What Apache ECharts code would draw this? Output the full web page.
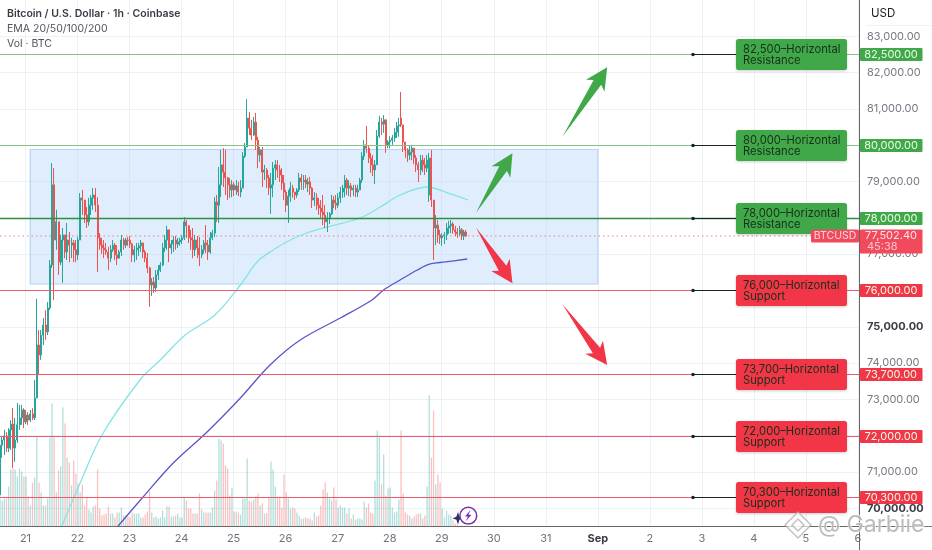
<!DOCTYPE html>
<html>
<head>
<meta charset="utf-8">
<style>html,body{margin:0;padding:0;background:#fff}#c{width:932px;height:550px}</style>
<script src="https://cdn.jsdelivr.net/npm/echarts@6/dist/echarts.min.js"></script>
</head>
<body>
<div id="c"></div>
<script>
const firstDay = 20.51;
const firstOpen = 70370;
const openOverrides = {185: 80750, 198: 78630};
const closes = [71740,71880,71990,71660,72160,72320,71660,71880,72300,72490,72710,72380,72570,72430,72600,72490,73040,74500,74220,74770,75050,74860,75520,76700,78910,77390,77890,76780,77390,77530,77060,77390,77250,77310,77120,76980,77390,78550,78490,78080,77890,78350,78550,78630,78350,77450,77250,77170,77120,77060,76890,77120,77250,76980,76890,77060,77390,77250,77390,77380,77280,76980,77120,77170,77230,77310,77060,76890,76620,76150,76230,76070,76430,76560,76700,77170,77390,77670,77170,77280,77390,77280,77340,77390,77450,77890,77780,77450,77390,77120,77390,77170,76980,77120,77310,77250,77060,77450,77580,78440,78350,78910,79460,79260,79100,78910,78770,78910,78770,78880,78710,78820,79700,79950,80750,80470,80280,80640,80140,79730,79870,79260,79320,79100,78820,78910,79370,79460,79320,79180,78960,78710,78350,78600,78820,78710,78630,78770,79100,78990,79040,78930,78990,78820,78490,78550,78350,78270,78160,78080,77890,78000,78110,78490,78410,78350,78550,78710,78820,79040,78820,78880,78770,78820,78710,78770,79040,79700,80010,79920,79650,79460,79320,79460,80250,80640,80580,80700,80010,80090,80140,80200,80360,80530,80560,80560,80090,79870,79730,79810,79920,79650,79460,79320,79590,79460,79370,79590,79650,78490,77720,77800,77530,77450,77500,77530,77720,77780,77830,77670,77610,77560,77670,77500,77610,77502];
const highs = [72300,71990,72160,72100,72210,72430,72760,72490,72900,72850,72850,72760,72710,72650,72710,72760,73530,75770,74910,74910,75240,75460,75680,76840,79510,79370,78220,77860,77530,77720,77530,77860,77610,77450,77390,77390,77470,78680,78770,78490,78300,78550,78630,78820,78820,78570,77580,77450,77390,77310,77200,77250,77390,77310,77250,77120,77530,77450,77450,77470,77500,77310,77230,77310,77310,77390,77310,77120,77030,76650,76340,76370,76560,76700,76780,77310,77530,77780,77610,77390,77500,77500,77450,77450,77530,78020,77940,77800,77670,77720,77530,77500,77470,77250,77390,77800,77390,77610,77670,78570,78630,79400,79870,79920,79870,79130,79100,79040,78990,79040,78990,79040,79810,80060,81270,80920,80700,80780,80890,80230,79950,79950,79460,79370,79180,79240,79540,79590,79590,79460,79370,79180,78770,78770,78990,78910,78710,78820,79240,79210,79180,79180,79100,79130,78850,78710,78680,78550,78490,78630,78350,78160,78160,78630,78600,78630,78680,78850,78910,79180,79100,79040,78960,78910,78910,78910,79100,79810,80140,80530,80010,79790,79730,79590,80420,80810,80750,80830,80470,80140,80250,80280,80470,80640,80750,81470,80500,80010,79920,79980,80010,79920,79730,79540,79730,79730,79650,79730,79790,79870,78350,78080,77940,77670,77580,77610,77860,77920,77940,77890,77780,77720,77780,77720,77670,77670];
const lows = [69760,71390,71470,71550,71550,71610,71110,71280,71800,72160,72300,72210,72320,72300,72380,72430,72430,73260,73670,74090,74500,74640,74770,75460,76620,75740,77120,76430,76700,76210,76890,76840,76780,76890,76780,76780,76840,77390,78080,77860,77720,77780,78080,78220,78160,76510,77120,77010,76890,76980,76560,76780,77060,76840,76700,76890,76950,77120,77170,77230,77170,76780,76780,76840,76950,77060,76890,76780,76480,75550,75850,75930,75960,76290,76510,76670,77060,77120,76780,77010,77060,77120,77170,77230,77280,77390,77450,77310,77120,76890,76950,76890,76670,76890,77010,77030,76840,77010,77390,77470,77890,77860,78570,78850,78630,78490,78550,78570,78600,78630,78600,78570,78930,79650,79980,80280,80140,80250,79870,79370,79540,78850,79040,78820,78630,78110,78570,79040,79100,78990,78770,78490,78160,77860,78440,78550,78490,78550,78710,78770,78770,78820,78710,78630,78270,78330,78220,78080,78000,77800,77720,77610,77830,78080,78270,78220,78270,78410,78550,78570,78630,78600,78570,78600,78570,78570,78770,78960,79590,79790,79510,79240,79150,78930,79460,80200,80280,80340,79790,79920,79920,80010,80090,80200,80230,80500,79810,79650,79540,79590,79590,79480,79260,78990,79180,79260,79180,79260,78440,78300,76840,77250,77310,77280,77230,77280,77390,77560,77580,77560,77500,77450,77500,77390,77390,77470];
const volumes = [300,260,280,280,400,570,580,570,500,580,550,500,500,300,210,440,490,900,440,340,210,210,280,890,1230,890,340,560,600,1190,1030,690,640,410,660,530,430,340,420,210,290,170,140,200,210,570,180,110,120,130,200,130,130,90,140,140,190,110,110,100,90,140,130,130,130,90,90,120,150,350,140,90,100,80,90,160,90,200,200,100,100,110,130,90,90,290,260,180,180,130,130,130,330,170,140,140,140,140,190,360,460,880,860,830,610,580,310,390,150,150,140,120,280,280,680,260,250,270,300,330,210,230,130,130,290,650,570,400,290,290,190,520,340,280,180,190,180,140,110,80,80,90,80,80,60,140,100,110,210,370,440,340,280,260,390,270,190,210,190,190,130,180,80,120,70,80,80,70,250,190,230,140,130,460,960,890,420,720,310,380,390,190,140,150,270,960,330,140,120,110,80,100,120,130,130,80,110,400,1310,690,1160,420,520,440,180,90,160,120,110,60,30,20,10,10,10,10];

const ema100Days = [21.70,22.05,22.47,23.20,23.59,24.07,24.64,25.13,25.45,25.76,26.09,26.41,26.80,27.43,27.82,28.20,28.72,29.07,29.51];
const ema100Values = [69514,70698,72020,73535,74086,74774,75325,76151,76785,77115,77390,77583,77748,77996,78299,78630,78850,78712,78492];
const ema200Days = [22.78,23.26,23.84,24.49,25.13,25.70,26.28,27.05,27.66,27.88,28.20,28.53,28.78,29.07,29.49];
const ema200Values = [69514,70313,71249,72103,73039,73948,74636,75242,75738,76013,76289,76564,76730,76785,76867];

const levelPrices = [82500,80000,78000,76000,73700,72000,70300];
const levelKinds = ['Resistance','Resistance','Resistance','Support','Support','Support','Support'];
const levelNames = ['82,500','80,000','78,000','76,000','73,700','72,000','70,300'];
const levelTags = ['82,500.00','80,000.00','78,000.00','76,000.00','73,700.00','72,000.00','70,300.00'];
const currentPrice = 77502.40;
const currentPriceLabel = '77,502.40';
const countdown = '45:38';
const symbolTag = 'BTCUSD';

const yTicks = [70000,71000,72000,73000,74000,75000,76000,77000,78000,79000,80000,81000,82000,83000];
const yLabels = ['70,000.00','71,000.00','72,000.00','73,000.00','74,000.00','75,000.00','76,000.00','77,000.00','78,000.00','79,000.00','80,000.00','81,000.00','82,000.00','83,000.00'];
const yBold = [70000,75000];
const xTicks = [21,22,23,24,25,26,27,28,29,30,31,32,33,34,35,36,37];
const xLabels = ['21','22','23','24','25','26','27','28','29','30','31','Sep','2','3','4','5','6'];

const rangeBox = [21.09,32.0,79883,76179];
const arrowsUp = [[29.66,78142,30.36,79778],[31.32,80235,32.18,82147]];
const arrowsDown = [[29.66,77729,30.36,76198],[31.32,75620,32.18,73948]];
const connectorStartDay = 33.83;

const FONT = 'Inter, "Noto Sans", sans-serif';
const UP = '#26a69a', DOWN = '#ef5350';
const GREEN = '#41a84a', RED = '#f23648';

const times = closes.map((c,i)=>firstDay + i/24);
const opens = closes.map((c,i)=> openOverrides[i] !== undefined ? openOverrides[i] : (i ? closes[i-1] : firstOpen));
const candleData = closes.map((c,i)=>[times[i],opens[i],c,lows[i],highs[i]]);
const volumeData = volumes.map((v,i)=>({
  value:[times[i],v],
  itemStyle:{color: closes[i]>=opens[i] ? 'rgba(38,166,154,0.36)' : 'rgba(239,83,80,0.36)'}
}));

const chart = echarts.init(document.getElementById('c'), null, {renderer:'canvas'});

function renderLevel(params, api){
  const i = api.value(0);
  const price = levelPrices[i];
  const kind = levelKinds[i];
  const res = kind === 'Resistance';
  const color = res ? GREEN : RED;
  const y = Math.round(api.coord([firstDay, price])[1]) + 0.5;
  const lineColor = price === 78000 ? '#2f8f3f' : (res ? '#86c286' : '#ee5a6c');
  const x0 = api.coord([connectorStartDay, price])[0];
  const right = 859;
  return {type:'group', children:[
    {type:'line', shape:{x1:0,y1:y,x2:right,y2:y}, style:{stroke:lineColor, lineWidth: price===78000?1.6:1.2}},
    {type:'line', shape:{x1:x0,y1:y,x2:737,y2:y}, style:{stroke:'#222', lineWidth:1}},
    {type:'circle', shape:{cx:x0,cy:y,r:1.8}, style:{fill:'#123'}},
    {type:'rect', shape:{x:736,y:y-15.5,width:111,height:31,r:2.5},
      style:{fill:color, shadowBlur:3, shadowColor:'rgba(0,0,0,0.2)', shadowOffsetY:1}},
    {type:'text', x:743, y:y-5.2, style:{text:levelNames[i]+'–Horizontal', fill:'#16301a', font:'11.2px '+FONT, textAlign:'left', textVerticalAlign:'middle'}},
    {type:'text', x:743, y:y+5.8, style:{text:kind, fill:'#16301a', font:'11.2px '+FONT, textAlign:'left', textVerticalAlign:'middle'}},
    {type:'rect', shape:{x:860,y:y-6.5,width:62.5,height:13,r:1}, style:{fill:color}},
    {type:'text', x:891, y:y, style:{text:levelTags[i], fill:'#eafbe8', font:'11px '+FONT, textAlign:'center', textVerticalAlign:'middle'}}
  ]};
}

function arrowShape(a, b){
  const dx=b[0]-a[0], dy=b[1]-a[1], L=Math.hypot(dx,dy), ux=dx/L, uy=dy/L, nx=-uy, ny=ux;
  const p=(along,side)=>[a[0]+ux*along+nx*side, a[1]+uy*along+ny*side];
  return [a, p(L-18,4.5), p(L-22,11), b, p(L-22,-11), p(L-18,-4.5)];
}
function renderArrow(color){
  return function(params, api){
    const a=api.coord([api.value(0),api.value(1)]);
    const b=api.coord([api.value(2),api.value(3)]);
    return {type:'polygon', shape:{points:arrowShape(a,b)}, style:{fill:color}};
  };
}

const option = {
  animation:false,
  backgroundColor:'#fff',
  title:[
    {text:'Bitcoin / U.S. Dollar · 1h · Coinbase',left:7,top:8,padding:0,textStyle:{fontFamily:FONT,fontSize:10.5,fontWeight:600,color:'#3a3d46'}},
    {text:'EMA 20/50/100/200',left:7,top:23,padding:0,textStyle:{fontFamily:FONT,fontSize:10.5,fontWeight:400,color:'#50535e'}},
    {text:'Vol · BTC',left:7,top:38,padding:0,textStyle:{fontFamily:FONT,fontSize:10.5,fontWeight:400,color:'#50535e'}},
    {text:'USD',left:871,top:8,padding:0,textStyle:{fontFamily:FONT,fontSize:11.5,fontWeight:400,color:'#222'}}
  ],
  grid:[{left:0,top:0,width:859,height:526.5,containLabel:false}],
  xAxis:{
    type:'value',min:firstDay,max:37.02,
    axisLine:{show:true,onZero:false,lineStyle:{color:'#666',width:1}},
    axisTick:{show:false,customValues:xTicks},
    axisLabel:{
      customValues:xTicks,margin:7,fontFamily:FONT,fontSize:11,color:'#6f727c',showMinLabel:true,showMaxLabel:true,
      formatter:v=>{const s=xLabels[xTicks.indexOf(v)];return s==='Sep'?'{b|Sep}':s;},
      rich:{b:{fontFamily:FONT,fontSize:11,fontWeight:700,color:'#3a3d46'}}
    },
    splitLine:{show:true,lineStyle:{color:'#edf1f5',width:1}}
  },
  yAxis:[
    {type:'value',position:'right',min:69500,max:84000,
     axisLine:{show:true,lineStyle:{color:'#666',width:1}},
     axisTick:{show:false,customValues:yTicks},
     axisLabel:{
       customValues:yTicks,margin:8,fontFamily:FONT,fontSize:11,color:'#777a84',align:'left',
       formatter:v=>{const s=yLabels[yTicks.indexOf(v)];return yBold.includes(v)?'{b|'+s+'}':s;},
       rich:{b:{fontFamily:FONT,fontSize:11,fontWeight:700,color:'#3a3d46'}}
     },
     splitLine:{show:true,lineStyle:{color:'#edf1f5',width:1}}},
    {type:'value',show:false,min:0,max:5265,splitLine:{show:false}}
  ],
  series:[
    {type:'line',name:'range',data:[],z:1,
     markArea:{silent:true,itemStyle:{color:'rgba(187,214,248,0.45)',borderColor:'#b5d3f4',borderWidth:1.2},
       data:[[{coord:[rangeBox[0],rangeBox[2]]},{coord:[rangeBox[1],rangeBox[3]]}]]}},
    {type:'line',name:'current',data:[[firstDay,currentPrice],[37.02,currentPrice]],symbol:'none',z:2,
     lineStyle:{type:[1.5,3],color:'#ec7f86',width:1},silent:true},
    {type:'bar',name:'Vol',yAxisIndex:1,data:volumeData,barWidth:1.3,barGap:'-100%',z:3,silent:true},
    {type:'line',name:'EMA 100',data:ema100Days.map((d,i)=>[d,ema100Values[i]]),symbol:'none',z:4,smooth:0.35,
     lineStyle:{color:'#83e4e4',width:1.3}},
    {type:'line',name:'EMA 200',data:ema200Days.map((d,i)=>[d,ema200Values[i]]),symbol:'none',z:4,smooth:0.35,
     lineStyle:{color:'#5a56c8',width:1.3}},
    {type:'candlestick',name:'BTCUSD',data:candleData,encode:{x:0,y:[1,2,3,4]},barWidth:1.5,z:5,silent:true,
     itemStyle:{color:UP,color0:DOWN,borderColor:UP,borderColor0:DOWN,borderWidth:1}},
    {type:'custom',name:'levels',z:6,clip:false,silent:true,data:levelPrices.map((p,i)=>[i]),renderItem:renderLevel},
    {type:'custom',name:'up',z:7,clip:false,silent:true,data:arrowsUp,renderItem:renderArrow(GREEN)},
    {type:'custom',name:'down',z:7,clip:false,silent:true,data:arrowsDown,renderItem:renderArrow(RED)},
    {type:'custom',name:'now',z:8,clip:false,silent:true,data:[[currentPrice]],renderItem:function(params,api){
      const y=api.coord([firstDay,api.value(0)])[1];
      return {type:'group',children:[
        {type:'rect',shape:{x:811,y:y-6.5,width:48,height:13,r:1.5},style:{fill:'#f04a5c'}},
        {type:'text',x:835,y:y,style:{text:symbolTag,fill:'#fbd5d9',font:'10.5px '+FONT,textAlign:'center',textVerticalAlign:'middle'}},
        {type:'rect',shape:{x:860,y:y-6.5,width:62.5,height:24,r:1},style:{fill:'#f04a5c'}},
        {type:'text',x:891,y:y,style:{text:currentPriceLabel,fill:'#fde3e5',font:'11px '+FONT,textAlign:'center',textVerticalAlign:'middle'}},
        {type:'text',x:867,y:y+10.5,style:{text:countdown,fill:'#fbc6cb',font:'11px '+FONT,textAlign:'left',textVerticalAlign:'middle'}}
      ]};
    }}
  ],
  graphic:[
    {type:'line',z:100,shape:{x1:859.5,y1:0,x2:859.5,y2:550},style:{stroke:'#666',lineWidth:1}},
    {type:'line',z:100,shape:{x1:859,y1:526.5,x2:932,y2:526.5},style:{stroke:'#777',lineWidth:1}},
    {type:'line',z:100,shape:{x1:866,y1:25.5,x2:932,y2:25.5},style:{stroke:'#f0f2f5',lineWidth:1}},
    {type:'polygon',z:100,shape:{points:[[458,512],[459.4,516.8],[463.5,518.3],[459.4,519.8],[458,524.5],[456.4,519.8],[452.5,518.3],[456.4,516.8]]},style:{fill:'#2b2f63'}},
    {type:'circle',z:100,shape:{cx:468.3,cy:515.7,r:8.4},style:{fill:'#fff',stroke:'#7a2fa8',lineWidth:1.5}},
    {type:'polygon',z:101,shape:{points:[[470.5,510],[465,516.5],[468,516.5],[465.5,521.5],[471.5,514.8],[468.4,514.8]]},style:{fill:'#7a2fa8'}},
    {type:'polygon',z:102,shape:{points:[[798,512],[811,525],[798,538],[785,525]]},style:{fill:'rgba(255,255,255,0.65)',stroke:'rgba(170,170,170,0.7)',lineWidth:1.5}},
    {type:'polygon',z:102,shape:{points:[[798,519],[804,525],[798,531],[792,525]]},style:{fill:'rgba(255,255,255,0.7)',stroke:'rgba(170,170,170,0.7)',lineWidth:1.5}},
    {type:'text',z:102,x:818,y:525,style:{text:'@ Garbiie',font:'23px '+FONT,fill:'rgba(165,165,165,0.75)',stroke:'rgba(255,255,255,0.7)',lineWidth:2,textAlign:'left',textVerticalAlign:'middle'}}
  ]
};
chart.setOption(option);
</script>
</body>
</html>
